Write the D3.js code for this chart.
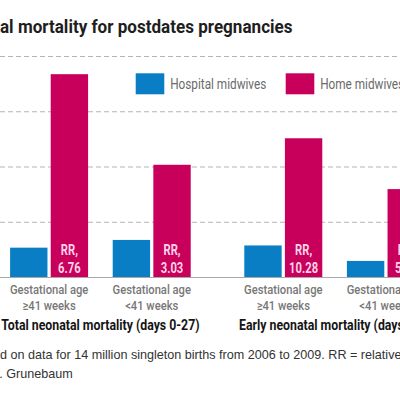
<!DOCTYPE html>
<html>
<head>
<meta charset="utf-8">
<script src="https://cdn.jsdelivr.net/npm/d3@7"></script>
<style>
  html, body { margin: 0; padding: 0; background: #fff; overflow: hidden; }
  svg { display: block; }
  .narrow { font-family: Roboto, "Liberation Sans", sans-serif; }
  .grid line { stroke: #b5b5b5; stroke-width: 1.2; stroke-dasharray: 5 3; }
  .base { stroke: #a8a8a8; stroke-width: 1.2; }
  .title { font-weight: bold; font-size: 17.5px; fill: #1e1e1e; }
  .legend text { font-size: 14px; fill: #6a6a6a; }
  .cat { font-size: 13.5px; fill: #777; font-weight: 500; }
  .section { font-weight: bold; font-size: 15px; fill: #151515; }
  .rr { font-weight: bold; font-size: 14px; fill: #ffd3e7; }
  .note { font-family: "Liberation Sans", Arial, sans-serif; font-size: 12.6px; fill: #333; }
</style>
</head>
<body>
<div id="chart"></div>
<script>
// Values, per 1,000 births (bars only, no y labels shown).
const sections = ["Total neonatal mortality (days 0-27)", "Early neonatal mortality (days 0-6)"];
const ages = ["≥41", "<41"];
const ageLines = { "≥41": ["Gestational age", "≥41 weeks"], "<41": ["Gestational age", "<41 weeks"] };
const seriesNames = ["Hospital midwives", "Home midwives"];
const hospital = [0.27, 0.34, 0.29, 0.15];
const home = [1.84, 1.02, 1.26, 0.80];
const rrLabels = ["6.76", "3.03", "10.28", "5.13"];
const yGrid = [0.5, 1, 1.5, 2];

const width = 400, height = 400;
const colors = { "Hospital midwives": "#0a7ec4", "Home midwives": "#c8005c" };

const rows = [];
sections.forEach((s, si) => ages.forEach((a, ai) => {
  const i = si * 2 + ai;
  rows.push({ section: s, age: a, hospital: hospital[i], home: home[i], rr: rrLabels[i] });
}));

const svg = d3.select("#chart").append("svg")
  .attr("width", width).attr("height", height);

// The original face is a condensed grotesque; squeeze the installed one to match.
function squeeze(sel, k) {
  if (k === 1) return sel;
  sel.each(function () {
    const w = this.getComputedTextLength();
    d3.select(this).attr("textLength", w * k).attr("lengthAdjust", "spacingAndGlyphs");
  });
  return sel;
}

// Section band, then age point inside the section, then series band around it.
const xSec = d3.scaleBand().domain(sections).range([-16.7, 451.7]);
const xAge = d3.scalePoint().domain(ages).range([0, xSec.bandwidth()]).padding(0.641);
const xSer = d3.scaleBand().domain(seriesNames).range([-39, 39]).paddingInner(0.08);
const y = d3.scaleLinear([0, 2], [277.5, 56.5]);
const cx = (d) => xSec(d.section) + xAge(d.age);

svg.append("g").attr("class", "grid").selectAll("line")
  .data(yGrid).join("line")
  .attr("x1", 0).attr("x2", width).attr("y1", (d) => y(d)).attr("y2", (d) => y(d));

// Text whose left part falls outside the frame: place it so the visible part starts at x0.
function cropText(g, cls, full, hidden, x0, yy, k) {
  const t = g.append("text").attr("class", cls).attr("y", yy).text(hidden);
  const w = t.node().getComputedTextLength() * k;
  t.text(full).attr("x", x0 - w);
  squeeze(t, k);
  return t;
}

cropText(svg, "narrow title", "Neonatal mortality for postdates pregnancies", "Neonat", 0, 33.3, 0.975);

const groups = svg.append("g").selectAll("g").data(rows).join("g")
  .attr("transform", (d) => `translate(${cx(d)},0)`);

groups.append("rect")
  .attr("x", xSer("Hospital midwives")).attr("width", xSer.bandwidth())
  .attr("y", (d) => y(d.hospital)).attr("height", (d) => y(0) - y(d.hospital))
  .attr("fill", colors["Hospital midwives"]);
groups.append("rect")
  .attr("x", xSer("Home midwives")).attr("width", xSer.bandwidth())
  .attr("y", (d) => y(d.home)).attr("height", (d) => y(0) - y(d.home))
  .attr("fill", colors["Home midwives"]);

const rrX = xSer("Home midwives") + xSer.bandwidth() / 2;
squeeze(groups.append("text").attr("class", "narrow rr").attr("text-anchor", "middle")
  .attr("x", rrX).attr("y", 255).text("RR,"), 0.8);
squeeze(groups.append("text").attr("class", "narrow rr").attr("text-anchor", "middle")
  .attr("x", rrX).attr("y", 272.7).text((d) => d.rr), 0.8);

svg.append("line").attr("class", "base")
  .attr("x1", 0).attr("x2", width).attr("y1", y(0)).attr("y2", y(0));

squeeze(groups.append("text").attr("class", "narrow cat").attr("text-anchor", "middle")
  .attr("y", 294).text((d) => ageLines[d.age][0]), 0.83);
squeeze(groups.append("text").attr("class", "narrow cat").attr("text-anchor", "middle")
  .attr("y", 309.5).text((d) => ageLines[d.age][1]), 0.83);

squeeze(svg.append("g").selectAll("text").data(sections).join("text")
  .attr("class", "narrow section").attr("text-anchor", "middle")
  .attr("x", (d) => xSec(d) + xSec.bandwidth() / 2).attr("y", 329.5)
  .text((d) => d), 0.82);

// Legend
const leg = svg.append("g").attr("class", "narrow legend");
const legX = [135.7, 285.7];
seriesNames.forEach((s, i) => {
  leg.append("rect").attr("x", legX[i]).attr("y", 73.3).attr("width", 28.6).attr("height", 21)
    .attr("fill", colors[s]);
  squeeze(leg.append("text").attr("x", legX[i] + 34.5).attr("y", 89).text(s), 0.84);
});

cropText(svg, "note",
  "Note: Based on data for 14 million singleton births from 2006 to 2009. RR = relative risk.",
  "Note: Base", 0, 358.5, 1);
cropText(svg, "note", "Source: Dr. Grunebaum", "Source: Dr", 0, 377.7, 1);
</script>
</body>
</html>
